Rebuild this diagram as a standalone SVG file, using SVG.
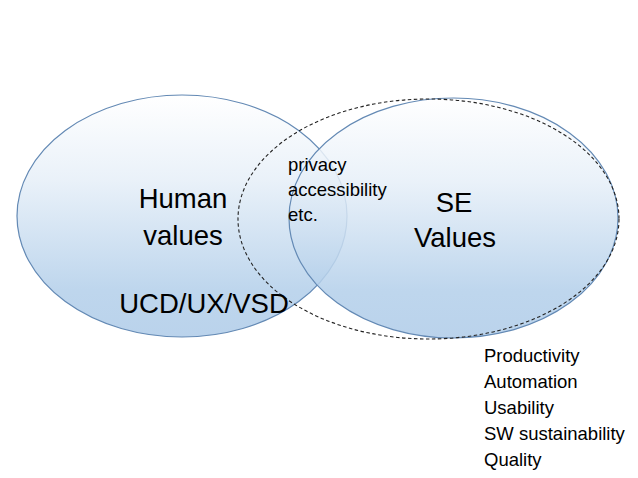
<svg xmlns="http://www.w3.org/2000/svg" width="638" height="478" viewBox="0 0 638 478">
<defs>
<linearGradient id="g" x1="0" y1="0" x2="0" y2="1">
<stop offset="0" stop-color="#ffffff"/>
<stop offset="0.35" stop-color="#e6eff8"/>
<stop offset="0.8" stop-color="#b3cfea"/>
<stop offset="1" stop-color="#aecbe8"/>
</linearGradient>
<style>
.ell{fill:url(#g);fill-opacity:0.85;stroke:#6389b4;stroke-width:1.2}
.dash{fill:none;stroke:#222;stroke-width:1.1;stroke-dasharray:3.5 2.5}
.big{font-family:"Liberation Sans",Arial,sans-serif;font-size:27.5px;fill:#000;text-anchor:middle}
.sm{font-family:"Liberation Sans",Arial,sans-serif;font-size:18.5px;fill:#000}
</style>
</defs>
<rect width="638" height="478" fill="#fff"/>
<g id="human">
<ellipse class="ell" cx="182" cy="216" rx="165" ry="121"/>
</g>
<g id="se">
<ellipse class="ell" cx="453.5" cy="218" rx="164.5" ry="120"/>
</g>
<g id="connectors">
<ellipse class="dash" cx="428.5" cy="219" rx="190.5" ry="120"/>
</g>
<g id="labels">
<text class="big" x="183" y="208">Human</text>
<text class="big" x="183" y="245">values</text>
<text class="big" x="204" y="313">UCD/UX/VSD</text>
<text class="big" x="454" y="212">SE</text>
<text class="big" x="455" y="247">Values</text>
<text class="sm" x="288" y="171">privacy</text>
<text class="sm" x="288" y="196">accessibility</text>
<text class="sm" x="288" y="221">etc.</text>
<text class="sm" x="484" y="362">Productivity</text>
<text class="sm" x="484" y="388">Automation</text>
<text class="sm" x="484" y="414">Usability</text>
<text class="sm" x="484" y="440">SW sustainability</text>
<text class="sm" x="484" y="466">Quality</text>
</g>
</svg>
